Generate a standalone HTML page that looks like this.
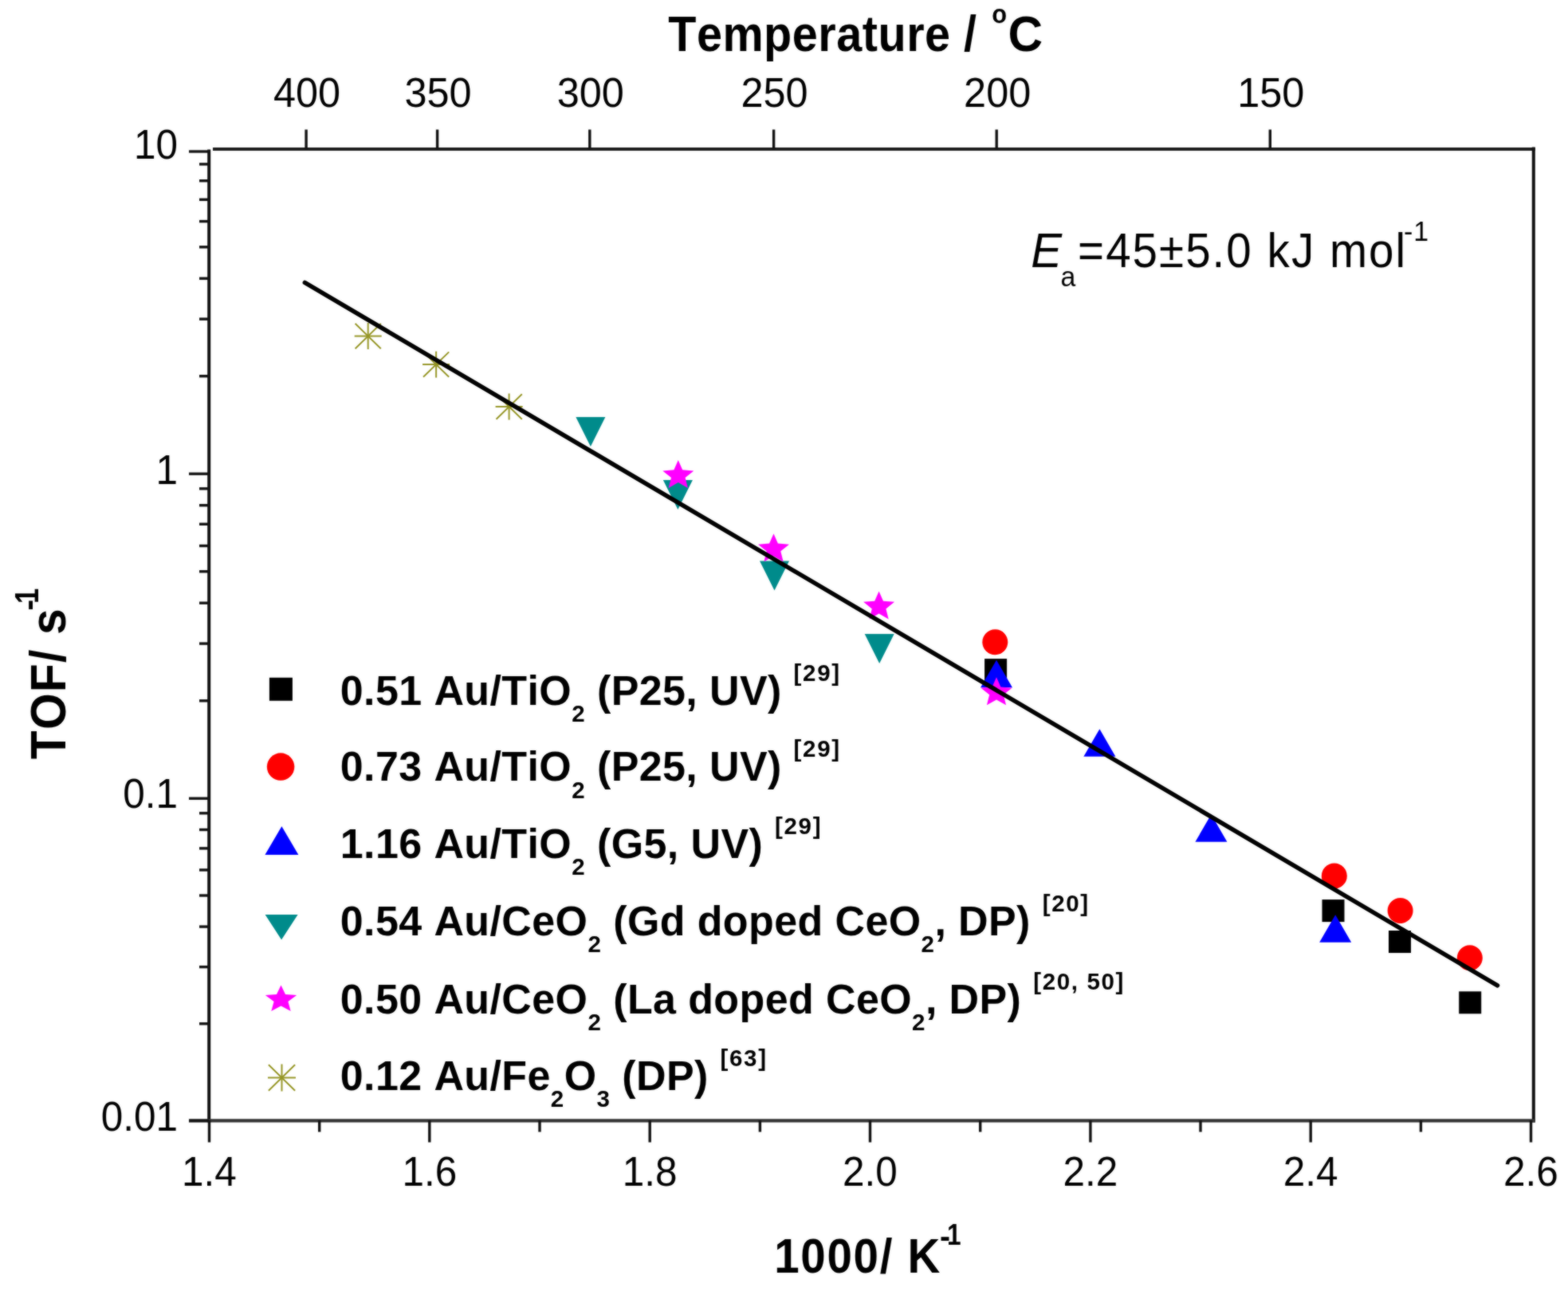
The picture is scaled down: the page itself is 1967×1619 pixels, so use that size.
<!DOCTYPE html><html><head><meta charset="utf-8"><title>TOF Arrhenius plot</title><style>html,body{margin:0;padding:0;background:#fff;overflow:hidden}svg{display:block}text{font-family:"Liberation Sans",Arial,sans-serif;fill:#000;font-kerning:none}</style></head><body>
<svg width="1967" height="1619" viewBox="0 0 1967 1619">
<defs><filter id="soft" x="0" y="0" width="1967" height="1619" filterUnits="userSpaceOnUse" color-interpolation-filters="sRGB"><feGaussianBlur in="SourceGraphic" stdDeviation="1" result="b"/><feComposite in="b" in2="SourceGraphic" operator="arithmetic" k1="0" k2="0.55" k3="0.45" k4="0"/></filter></defs>
<rect width="1967" height="1619" fill="#fff"/>
<g filter="url(#soft)">
<g stroke="#111" stroke-linecap="butt" fill="none">
<line x1="262.2" y1="187.5" x2="262.2" y2="1407.5" stroke-width="4"/>
<line x1="267" y1="186.9" x2="1925.8" y2="186.9" stroke-width="4" stroke="#1c1c1c"/>
<line x1="1923.8" y1="184.4" x2="1923.8" y2="1407.5" stroke-width="4"/>
<line x1="237" y1="1405.4" x2="1925.8" y2="1405.4" stroke-width="4.2" stroke="#333"/>
<line x1="237" y1="190.0" x2="262" y2="190.0" stroke-width="3.4"/>
<line x1="237" y1="594.2" x2="262" y2="594.2" stroke-width="3.4"/>
<line x1="237" y1="1001.3" x2="262" y2="1001.3" stroke-width="3.4"/>
<line x1="237" y1="1405.5" x2="262" y2="1405.5" stroke-width="3.4"/>
<line x1="250" y1="471.7" x2="262" y2="471.7" stroke-width="3.4"/>
<line x1="250" y1="400.1" x2="262" y2="400.1" stroke-width="3.4"/>
<line x1="250" y1="349.2" x2="262" y2="349.2" stroke-width="3.4"/>
<line x1="250" y1="309.8" x2="262" y2="309.8" stroke-width="3.4"/>
<line x1="250" y1="277.6" x2="262" y2="277.6" stroke-width="3.4"/>
<line x1="250" y1="250.3" x2="262" y2="250.3" stroke-width="3.4"/>
<line x1="250" y1="226.7" x2="262" y2="226.7" stroke-width="3.4"/>
<line x1="250" y1="205.9" x2="262" y2="205.9" stroke-width="3.4"/>
<line x1="250" y1="878.8" x2="262" y2="878.8" stroke-width="3.4"/>
<line x1="250" y1="807.1" x2="262" y2="807.1" stroke-width="3.4"/>
<line x1="250" y1="756.2" x2="262" y2="756.2" stroke-width="3.4"/>
<line x1="250" y1="716.7" x2="262" y2="716.7" stroke-width="3.4"/>
<line x1="250" y1="684.5" x2="262" y2="684.5" stroke-width="3.4"/>
<line x1="250" y1="657.3" x2="262" y2="657.3" stroke-width="3.4"/>
<line x1="250" y1="633.7" x2="262" y2="633.7" stroke-width="3.4"/>
<line x1="250" y1="612.8" x2="262" y2="612.8" stroke-width="3.4"/>
<line x1="250" y1="1283.8" x2="262" y2="1283.8" stroke-width="3.4"/>
<line x1="250" y1="1212.6" x2="262" y2="1212.6" stroke-width="3.4"/>
<line x1="250" y1="1162.1" x2="262" y2="1162.1" stroke-width="3.4"/>
<line x1="250" y1="1123.0" x2="262" y2="1123.0" stroke-width="3.4"/>
<line x1="250" y1="1091.0" x2="262" y2="1091.0" stroke-width="3.4"/>
<line x1="250" y1="1063.9" x2="262" y2="1063.9" stroke-width="3.4"/>
<line x1="250" y1="1040.5" x2="262" y2="1040.5" stroke-width="3.4"/>
<line x1="250" y1="1019.8" x2="262" y2="1019.8" stroke-width="3.4"/>
<line x1="262.5" y1="1405" x2="262.5" y2="1432.5" stroke-width="3.4"/>
<line x1="400.7" y1="1405" x2="400.7" y2="1419.5" stroke-width="3.4"/>
<line x1="538.8" y1="1405" x2="538.8" y2="1432.5" stroke-width="3.4"/>
<line x1="677.0" y1="1405" x2="677.0" y2="1419.5" stroke-width="3.4"/>
<line x1="815.2" y1="1405" x2="815.2" y2="1432.5" stroke-width="3.4"/>
<line x1="953.4" y1="1405" x2="953.4" y2="1419.5" stroke-width="3.4"/>
<line x1="1091.5" y1="1405" x2="1091.5" y2="1432.5" stroke-width="3.4"/>
<line x1="1229.7" y1="1405" x2="1229.7" y2="1419.5" stroke-width="3.4"/>
<line x1="1367.9" y1="1405" x2="1367.9" y2="1432.5" stroke-width="3.4"/>
<line x1="1506.0" y1="1405" x2="1506.0" y2="1419.5" stroke-width="3.4"/>
<line x1="1644.2" y1="1405" x2="1644.2" y2="1432.5" stroke-width="3.4"/>
<line x1="1782.4" y1="1405" x2="1782.4" y2="1419.5" stroke-width="3.4"/>
<line x1="1920.5" y1="1405" x2="1920.5" y2="1432.5" stroke-width="3.4"/>
<line x1="384.1" y1="162.5" x2="384.1" y2="187" stroke-width="3.4"/>
<line x1="548.6" y1="162.5" x2="548.6" y2="187" stroke-width="3.4"/>
<line x1="739.8" y1="162.5" x2="739.8" y2="187" stroke-width="3.4"/>
<line x1="970.6" y1="162.5" x2="970.6" y2="187" stroke-width="3.4"/>
<line x1="1250.2" y1="162.5" x2="1250.2" y2="187" stroke-width="3.4"/>
<line x1="1593.3" y1="162.5" x2="1593.3" y2="187" stroke-width="3.4"/>
</g>
<text transform="translate(385.1,134) scale(0.97,1)" font-size="52" text-anchor="middle" font-weight="normal" font-style="normal" >400</text>
<text transform="translate(549.6,134) scale(0.97,1)" font-size="52" text-anchor="middle" font-weight="normal" font-style="normal" >350</text>
<text transform="translate(740.8,134) scale(0.97,1)" font-size="52" text-anchor="middle" font-weight="normal" font-style="normal" >300</text>
<text transform="translate(971.6,134) scale(0.97,1)" font-size="52" text-anchor="middle" font-weight="normal" font-style="normal" >250</text>
<text transform="translate(1251.2,134) scale(0.97,1)" font-size="52" text-anchor="middle" font-weight="normal" font-style="normal" >200</text>
<text transform="translate(1594.3,134) scale(0.97,1)" font-size="52" text-anchor="middle" font-weight="normal" font-style="normal" >150</text>
<text transform="translate(262.5,1487) scale(0.97,1)" font-size="51" text-anchor="middle" font-weight="normal" font-style="normal" >1.4</text>
<text transform="translate(538.8,1487) scale(0.97,1)" font-size="51" text-anchor="middle" font-weight="normal" font-style="normal" >1.6</text>
<text transform="translate(815.2,1487) scale(0.97,1)" font-size="51" text-anchor="middle" font-weight="normal" font-style="normal" >1.8</text>
<text transform="translate(1091.5,1487) scale(0.97,1)" font-size="51" text-anchor="middle" font-weight="normal" font-style="normal" >2.0</text>
<text transform="translate(1367.9,1487) scale(0.97,1)" font-size="51" text-anchor="middle" font-weight="normal" font-style="normal" >2.2</text>
<text transform="translate(1644.2,1487) scale(0.97,1)" font-size="51" text-anchor="middle" font-weight="normal" font-style="normal" >2.4</text>
<text transform="translate(1920.5,1487) scale(0.97,1)" font-size="51" text-anchor="middle" font-weight="normal" font-style="normal" >2.6</text>
<text transform="translate(223,199.4) scale(0.97,1)" font-size="51" text-anchor="end" font-weight="normal" font-style="normal" >10</text>
<text transform="translate(223,606.6) scale(0.97,1)" font-size="51" text-anchor="end" font-weight="normal" font-style="normal" >1</text>
<text transform="translate(223,1012.5) scale(0.97,1)" font-size="51" text-anchor="end" font-weight="normal" font-style="normal" >0.1</text>
<text transform="translate(223,1418.2) scale(0.97,1)" font-size="51" text-anchor="end" font-weight="normal" font-style="normal" >0.01</text>
<text transform="translate(838.2,64.4) scale(0.9217,1)" font-size="62.5" font-weight="bold" letter-spacing="0.54">Temperature /</text>
<text transform="translate(1244.2,28.6) scale(0.95,1)" font-size="32.5" font-weight="bold">o</text>
<text transform="translate(1264.6,64.3) scale(0.965,1)" font-size="62.5" font-weight="bold">C</text>
<text transform="translate(971.16,1596.1) scale(0.9118,1)" font-size="62" font-weight="bold" letter-spacing="1.86">1000/ K</text>
<text transform="translate(1179,1563.6) scale(0.98,1)" font-size="40" font-weight="bold">-</text>
<text transform="translate(1188,1560.5) scale(0.85,1)" font-size="37.2" font-weight="bold">1</text>
<text transform="translate(81.8,952.2) rotate(-90) scale(0.9426,1)" font-size="62.5" font-weight="bold" letter-spacing="1.19">TOF/ s</text>
<text transform="translate(49.3,765.7) rotate(-90) scale(1.05,1)" font-size="40" font-weight="bold">-</text>
<text transform="translate(48.4,757) rotate(-90) scale(0.82,1)" font-size="42.3" font-weight="bold">1</text>
<text transform="translate(1293.2,334.8) scale(0.96,1)" font-size="60.6" font-style="italic">E</text>
<text transform="translate(1330.5,359) scale(0.94,1)" font-size="36">a</text>
<text transform="translate(1352.09,334.8) scale(0.9326,1)" font-size="60.6" letter-spacing="2.2">=45±5.0 kJ mol</text>
<text transform="translate(1761,302) scale(0.94,1)" font-size="36" letter-spacing="1">-1</text>
<text transform="translate(426.8,883.7) scale(1.019,1)" font-size="51" font-weight="bold" letter-spacing="0.41" xml:space="preserve">0.51 Au/TiO<tspan font-size="29" dy="21.2">2</tspan><tspan dy="-21.2"> (P25, UV) </tspan><tspan font-size="29" dy="-30" letter-spacing="1.6">[29]</tspan></text>
<text transform="translate(426.8,979.4) scale(1.019,1)" font-size="51" font-weight="bold" letter-spacing="0.41" xml:space="preserve">0.73 Au/TiO<tspan font-size="29" dy="21.2">2</tspan><tspan dy="-21.2"> (P25, UV) </tspan><tspan font-size="29" dy="-30" letter-spacing="1.6">[29]</tspan></text>
<text transform="translate(426.8,1076.0) scale(1.019,1)" font-size="51" font-weight="bold" letter-spacing="0.41" xml:space="preserve">1.16 Au/TiO<tspan font-size="29" dy="21.2">2</tspan><tspan dy="-21.2"> (G5, UV) </tspan><tspan font-size="29" dy="-30" letter-spacing="1.6">[29]</tspan></text>
<text transform="translate(426.8,1172.7) scale(1.019,1)" font-size="51" font-weight="bold" letter-spacing="0.41" xml:space="preserve">0.54 Au/CeO<tspan font-size="29" dy="21.2">2</tspan><tspan dy="-21.2"> (Gd doped CeO</tspan><tspan font-size="29" dy="21.2">2</tspan><tspan dy="-21.2">, DP) </tspan><tspan font-size="29" dy="-30" letter-spacing="1.6">[20]</tspan></text>
<text transform="translate(426.8,1270.7) scale(1.019,1)" font-size="51" font-weight="bold" letter-spacing="0.41" xml:space="preserve">0.50 Au/CeO<tspan font-size="29" dy="21.2">2</tspan><tspan dy="-21.2"> (La doped CeO</tspan><tspan font-size="29" dy="21.2">2</tspan><tspan dy="-21.2">, DP) </tspan><tspan font-size="29" dy="-30" letter-spacing="1.6">[20, 50]</tspan></text>
<text transform="translate(426.8,1367.0) scale(1.019,1)" font-size="51" font-weight="bold" letter-spacing="0.41" xml:space="preserve">0.12 Au/Fe<tspan font-size="29" dy="21.2">2</tspan><tspan dy="-21.2">O</tspan><tspan font-size="29" dy="21.2">3</tspan><tspan dy="-21.2"> (DP) </tspan><tspan font-size="29" dy="-30" letter-spacing="1.6">[63]</tspan></text>
<rect x="1235.1" y="826.1" width="28" height="28" fill="#000"/>
<rect x="1658.5" y="1128.1" width="28" height="28" fill="#000"/>
<rect x="1742.0" y="1167.0" width="28" height="28" fill="#000"/>
<rect x="1830.2" y="1243.3" width="28" height="28" fill="#000"/>
<circle cx="1248.3" cy="805.2" r="16.0" fill="#f00"/>
<circle cx="1673.8" cy="1098.5" r="16.0" fill="#f00"/>
<circle cx="1756.6" cy="1142" r="16.0" fill="#f00"/>
<circle cx="1843.8" cy="1201.2" r="16.0" fill="#f00"/>
<polygon points="1230.0,862.3 1270.0,862.3 1250,827.8" fill="#00f"/>
<polygon points="1359.4,948.7 1399.4,948.7 1379.4,914.2" fill="#00f"/>
<polygon points="1499.4,1055.8 1539.4,1055.8 1519.4,1021.3" fill="#00f"/>
<polygon points="1655.2,1181.7 1695.2,1181.7 1675.2,1147.2" fill="#00f"/>
<polygon points="722.4,523 759.4,523 740.9,560.0" fill="#008b8b"/>
<polygon points="831.9,602 868.9,602 850.4,639.0" fill="#008b8b"/>
<polygon points="953.0,703.6 990.0,703.6 971.5,740.6" fill="#008b8b"/>
<polygon points="1084.7,795.1 1121.7,795.1 1103.2,832.1" fill="#008b8b"/>
<polygon points="850.8,577.0 856.2,589.3 870.3,590.4 859.6,599.0 862.9,612.0 850.8,605.1 838.7,612.0 842.0,599.0 831.3,590.4 845.4,589.3" fill="#f0f"/>
<polygon points="970.5,669.3 975.9,681.6 990.0,682.7 979.3,691.3 982.6,704.3 970.5,697.4 958.4,704.3 961.7,691.3 951.0,682.7 965.1,681.6" fill="#f0f"/>
<polygon points="1102.6,741.4 1108.0,753.7 1122.1,754.8 1111.4,763.4 1114.7,776.4 1102.6,769.5 1090.5,776.4 1093.8,763.4 1083.1,754.8 1097.2,753.7" fill="#f0f"/>
<polygon points="1250.0,849.3 1255.4,861.6 1269.5,862.7 1258.8,871.3 1262.1,884.3 1250.0,877.4 1237.9,884.3 1241.2,871.3 1230.5,862.7 1244.6,861.6" fill="#f0f"/>
<g stroke="#959525" stroke-width="2"><line x1="444.7" y1="421.5" x2="478.7" y2="421.5"/><line x1="461.7" y1="405.0" x2="461.7" y2="438.0"/><line x1="445.6" y1="405.8" x2="477.8" y2="437.2"/><line x1="477.8" y1="405.8" x2="445.6" y2="437.2"/></g>
<g stroke="#959525" stroke-width="2"><line x1="530.1" y1="457.1" x2="564.1" y2="457.1"/><line x1="547.1" y1="440.6" x2="547.1" y2="473.6"/><line x1="531.0" y1="441.4" x2="563.2" y2="472.8"/><line x1="563.2" y1="441.4" x2="531.0" y2="472.8"/></g>
<g stroke="#959525" stroke-width="2"><line x1="621.6" y1="510" x2="655.6" y2="510"/><line x1="638.6" y1="493.5" x2="638.6" y2="526.5"/><line x1="622.5" y1="494.3" x2="654.8" y2="525.7"/><line x1="654.8" y1="494.3" x2="622.5" y2="525.7"/></g>
<rect x="337.9" y="849.8" width="29" height="29" fill="#000"/>
<circle cx="352.1" cy="961.6" r="17.25" fill="#f00"/>
<polygon points="332.4,1071.9 374.4,1071.9 353.4,1036.3" fill="#00f"/>
<polygon points="332.6,1147 373.6,1147 353.1,1178.5" fill="#008b8b"/>
<polygon points="352.5,1235.6 358.0,1247.0 372.2,1248.0 361.4,1256.0 364.7,1268.0 352.5,1261.6 340.3,1268.0 343.6,1256.0 332.8,1248.0 347.0,1247.0" fill="#f0f"/>
<g stroke="#959525" stroke-width="2"><line x1="336.0" y1="1351.5" x2="371.0" y2="1351.5"/><line x1="353.5" y1="1334.5" x2="353.5" y2="1368.5"/><line x1="336.9" y1="1335.3" x2="370.1" y2="1367.7"/><line x1="370.1" y1="1335.3" x2="336.9" y2="1367.7"/></g>
<line x1="382.4" y1="354.4" x2="1878.5" y2="1235.9" stroke="#000" stroke-width="5.5" stroke-linecap="round"/>
</g>
</svg></body></html>
